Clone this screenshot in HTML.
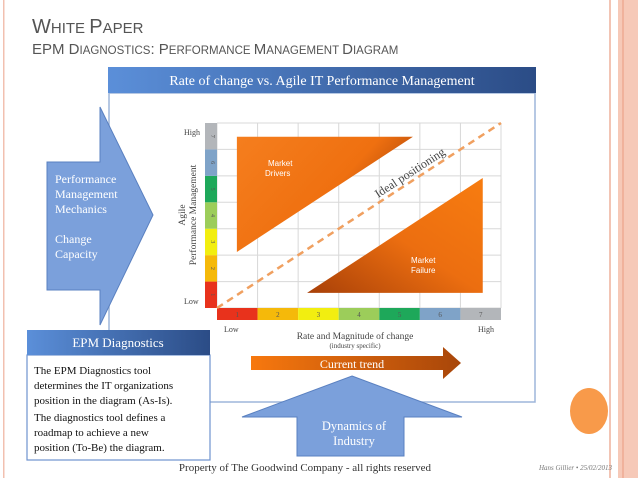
<!DOCTYPE html>
<html><head><meta charset="utf-8"><style>
body{margin:0;width:638px;height:478px;overflow:hidden;background:#fff;font-family:"Liberation Serif",serif}
svg{display:block}
</style></head><body>
<svg width="638" height="478" viewBox="0 0 638 478">
<defs>
<linearGradient id="hdr" x1="0" x2="1"><stop offset="0" stop-color="#5b8fd9"/><stop offset="1" stop-color="#2b4c86"/></linearGradient>
<linearGradient id="tri1" x1="0" y1="0" x2="1" y2="0.6"><stop offset="0" stop-color="#f57e1e"/><stop offset="0.6" stop-color="#ef7010"/><stop offset="1" stop-color="#9a3a08"/></linearGradient>
<linearGradient id="tri2" x1="1" y1="0" x2="0" y2="1"><stop offset="0" stop-color="#f77c10"/><stop offset="0.5" stop-color="#ec6e10"/><stop offset="1" stop-color="#a84008"/></linearGradient>
<linearGradient id="trend" x1="0" x2="1"><stop offset="0" stop-color="#f7780e"/><stop offset="1" stop-color="#a8460a"/></linearGradient>
</defs>
<rect x="3" y="0" width="1.5" height="478" fill="#f2c0b0"/>
<rect x="609" y="0" width="2" height="478" fill="#f2c4b4"/>
<rect x="618" y="0" width="20" height="478" fill="#f6c9b8"/>
<rect x="622" y="0" width="2" height="478" fill="#f0b29c"/>
<text x="32" y="33" font-family="Liberation Sans,sans-serif" fill="#555"><tspan font-size="20">W</tspan><tspan font-size="15">HITE </tspan><tspan font-size="20">P</tspan><tspan font-size="15">APER</tspan></text>
<text x="32" y="54" font-family="Liberation Sans,sans-serif" fill="#555"><tspan font-size="15">EPM D</tspan><tspan font-size="11.5">IAGNOSTICS</tspan><tspan font-size="15">: P</tspan><tspan font-size="11.5">ERFORMANCE </tspan><tspan font-size="15">M</tspan><tspan font-size="11.5">ANAGEMENT </tspan><tspan font-size="15">D</tspan><tspan font-size="11.5">IAGRAM</tspan></text>
<rect x="109" y="93" width="426" height="309" fill="#fff" stroke="#9db5da" stroke-width="1.5"/>
<rect x="108" y="67" width="428" height="26" fill="url(#hdr)"/>
<text x="322" y="85" text-anchor="middle" font-size="14" fill="#fff">Rate of change vs. Agile IT Performance Management</text>
<g id="chart"></g>
<polygon points="47,162 100,162 100,107 153,215 100,325 100,290 47,290" fill="#7ba0db" stroke="#5a80c0"/>
<text font-size="12" fill="#fff"><tspan x="55" y="183">Performance</tspan><tspan x="55" y="198">Management</tspan><tspan x="55" y="213">Mechanics</tspan><tspan x="55" y="243">Change</tspan><tspan x="55" y="258">Capacity</tspan></text>
<polygon points="251,356 443,356 443,347 461,363 443,379 443,370 251,370" fill="url(#trend)"/>
<text x="352" y="368" text-anchor="middle" font-size="12" fill="#fff">Current trend</text>
<polygon points="352,376 462,417 404,417 404,456 297,456 297,417 242,417" fill="#7ba0db" stroke="#5a80c0"/>
<text font-size="12.5" fill="#fff" text-anchor="middle"><tspan x="354" y="430">Dynamics of</tspan><tspan x="354" y="445">Industry</tspan></text>
<rect x="27" y="355" width="183" height="105" fill="#fff" stroke="#6f93cf" stroke-width="1.2"/>
<rect x="27" y="330" width="183" height="25" fill="url(#hdr)"/>
<text x="118" y="347" text-anchor="middle" font-size="13" fill="#fff">EPM Diagnostics</text>
<text font-size="11" fill="#111"><tspan x="34" y="374">The EPM Diagnostics tool</tspan><tspan x="34" y="389">determines the IT organizations</tspan><tspan x="34" y="404">position in the diagram (As-Is).</tspan><tspan x="34" y="421">The diagnostics tool defines a</tspan><tspan x="34" y="436">roadmap to achieve a new</tspan><tspan x="34" y="451">position (To-Be) the diagram.</tspan></text>
<ellipse cx="589" cy="411" rx="19" ry="23" fill="#f89a4a"/>
<text x="305" y="471" text-anchor="middle" font-size="11" fill="#333">Property of The Goodwind Company - all rights reserved</text>
<text x="612" y="470" text-anchor="end" font-size="7" font-style="italic" fill="#777">Hans Gillier • 25/02/2013</text>
</svg>
<script>
const levels=["1","2","3","4","5","6","7"];
const levelColors=["#e8321c","#f5b90a","#f2ee10","#9ccd5a","#1ea85a","#7fa3c8","#b3b6ba"];
const driversX=[0.49,4.83,0.49];
const driversY=[6.48,6.48,2.12];
const failureX=[6.55,6.55,2.22];
const failureY=[4.92,0.57,0.57];
const idealX=[0,7];
const idealY=[0,7];
const NS="http://www.w3.org/2000/svg";
const g=document.getElementById('chart');
const X0=217,X1=501,Y0=308,Y1=123;
const sx=v=>X0+(X1-X0)*v/7, sy=v=>Y0-(Y0-Y1)*v/7;
function mk(t,a,txt){const e=document.createElementNS(NS,t);for(const k in a)e.setAttribute(k,a[k]);if(txt!=null)e.textContent=txt;g.appendChild(e);return e;}
for(let i=0;i<=7;i++){
 let l=mk('line',{x1:sx(i),x2:sx(i),y1:Y1,y2:Y0,stroke:'#d8d8d8'});
 
 
 let h=mk('line',{x1:X0,x2:X1,y1:sy(i),y2:sy(i),stroke:'#d8d8d8'});
 
 
}
levels.forEach((lv,i)=>{
 let r=mk('rect',{x:sx(i),y:Y0,width:sx(1)-sx(0),height:12,fill:levelColors[i]});
 
 
 let t=mk('text',{x:(sx(i)+sx(i+1))/2,y:Y0+9,'font-size':7,'text-anchor':'middle',fill:'#555'},lv);
 
 
 let r2=mk('rect',{x:X0-12,y:sy(i+1),width:12,height:sy(i)-sy(i+1),fill:levelColors[i]});
 
 
 let t2=mk('text',{x:X0-6,y:(sy(i)+sy(i+1))/2,'font-size':6,'text-anchor':'middle',fill:'#555',transform:`rotate(90 ${X0-6} ${(sy(i)+sy(i+1))/2})`},lv);
 
 
});
let d=mk('polygon',{points:driversX.map((x,i)=>sx(x)+','+sy(driversY[i])).join(' '),fill:'url(#tri1)'});


let f=mk('polygon',{points:failureX.map((x,i)=>sx(x)+','+sy(failureY[i])).join(' '),fill:'url(#tri2)'});


let il=mk('line',{x1:sx(idealX[0]),y1:sy(idealY[0]),x2:sx(idealX[1]),y2:sy(idealY[1]),stroke:'#f0a060','stroke-width':2.5,'stroke-dasharray':'7,5'});


const ang=Math.atan2(sy(7)-sy(0),sx(7)-sx(0))*180/Math.PI;
let it=mk('text',{x:412,y:176,'font-size':12,fill:'#444','text-anchor':'middle',transform:`rotate(${ang} 412 176)`},'Ideal positioning');


const sans='"Liberation Sans",sans-serif';
let a=mk('text',{x:268,y:166,'font-size':8,fill:'#fff','font-family':sans},'Market');

a=mk('text',{x:265,y:176,'font-size':8,fill:'#fff','font-family':sans},'Drivers');

a=mk('text',{x:411,y:263,'font-size':8,fill:'#fff','font-family':sans},'Market');

a=mk('text',{x:411,y:273,'font-size':8,fill:'#fff','font-family':sans},'Failure');

const labs=[[184,135,'High','y-high'],[184,304,'Low','y-low'],[224,332,'Low','x-low'],[478,332,'High','x-high']];
labs.forEach(l=>{let t=mk('text',{x:l[0],y:l[1],'font-size':8,fill:'#444'},l[2]);
 
 });
let xt=mk('text',{x:355,y:339,'font-size':9.5,fill:'#444','text-anchor':'middle'},'Rate and Magnitude of change');

xt=mk('text',{x:355,y:348,'font-size':7,fill:'#444','text-anchor':'middle'},'(industry specific)');

let yt=mk('text',{x:185,y:215,'font-size':9.5,fill:'#444','text-anchor':'middle',transform:'rotate(-90 185 215)'},'Agile');

yt=mk('text',{x:196,y:215,'font-size':9.5,fill:'#444','text-anchor':'middle',transform:'rotate(-90 196 215)'},'Performance Management');

</script>
</body></html>
